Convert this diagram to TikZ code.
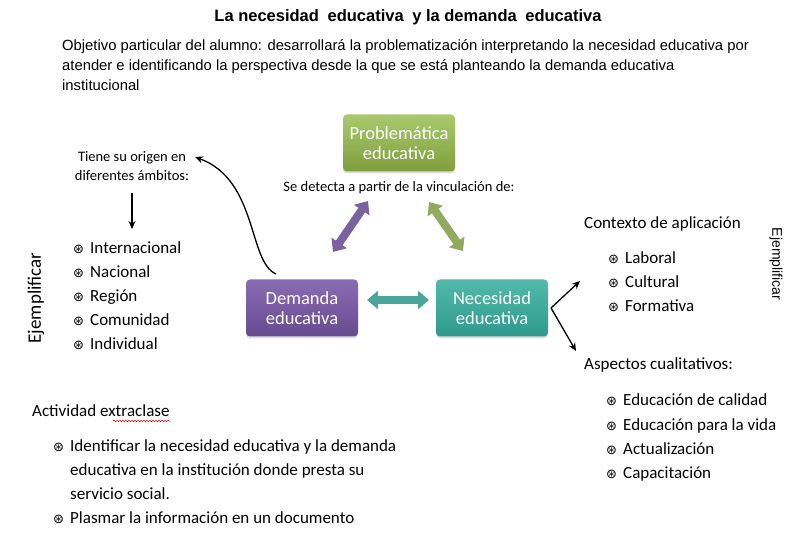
\documentclass[tikz,border=0pt]{standalone}
\usepackage{fontspec}
\setmainfont{Carlito}
\newfontfamily\arialfont{Liberation Sans}
\newfontfamily\symfont{DejaVu Sans}
\usetikzlibrary{arrows.meta,decorations.pathmorphing,shadows}

\definecolor{verdeA}{HTML}{A9C96E}
\definecolor{verdeB}{HTML}{7E9F3C}
\definecolor{moradoA}{HTML}{8A6CB2}
\definecolor{moradoB}{HTML}{684A91}
\definecolor{turqA}{HTML}{52B9AC}
\definecolor{turqB}{HTML}{2E9A8D}

\newcommand{\bul}{\makebox[17pt][l]{\symfont\fontsize{13}{13}\selectfont ⊛}}

\begin{document}
\begin{tikzpicture}[x=1pt,y=-1pt,
  caja/.style={rounded corners=4pt, minimum width=112pt, minimum height=57pt,
    text=white, align=center, inner sep=0pt,
    font=\fontsize{18.5}{20}\selectfont,
    drop shadow={opacity=0.25, shadow xshift=0pt, shadow yshift=-2pt}},
  gorda/.style={line width=8pt,
    {Triangle[width=18pt,length=11pt]}-{Triangle[width=18pt,length=11pt]}},
  fina/.style={line width=1.3pt, -{Stealth[length=8pt,width=7pt]}},
  texto/.style={anchor=base west, inner sep=0pt, font=\fontsize{17}{20}\selectfont},
  chico/.style={inner sep=0pt, font=\fontsize{14.5}{19}\selectfont, align=center},
  arial/.style={anchor=base west, inner sep=0pt, font=\arialfont\fontsize{14.8}{16}\selectfont}]

\useasboundingbox[fill=white] (0,0) rectangle (804,540);

% Title and objective
\node [anchor=base, inner sep=0pt, font=\arialfont\bfseries\fontsize{16.5}{18}\selectfont]
  (titulo) at (408,22) {La necesidad\hspace{4pt} educativa\hspace{4pt} y la demanda\hspace{4pt} educativa};
\node [arial] (obj1) at (62,51) {Objetivo particular del alumno: desarrollará la problematización interpretando la necesidad educativa por};
\node [arial] (obj2) at (62,71) {atender e identificando la perspectiva desde la que se está planteando la demanda educativa};
\node [arial] (obj3) at (62,91) {institucional};

% Boxes
\node [caja, top color=verdeA, bottom color=verdeB] (prob) at (399,143) {Problemática\\educativa};
\node [caja, top color=moradoA, bottom color=moradoB] (dem) at (302,308) {Demanda\\educativa};
\node [caja, top color=turqA, bottom color=turqB] (nec) at (492,308) {Necesidad\\educativa};

\node [chico] (detecta) at (399,188) {Se detecta a partir de la vinculación de:};

% Arrow ends
\coordinate (pm1) at (333,252);
\coordinate (pm2) at (368,201);
\coordinate (pv1) at (463,251);
\coordinate (pv2) at (429,202);
\coordinate (pt1) at (367,300);
\coordinate (pt2) at (429,300);

\draw [gorda, draw=moradoA!90!black, fill=moradoA!90!black] (pm1)--(pm2);
\draw [gorda, draw=verdeA!85!black, fill=verdeA!85!black] (pv1)--(pv2);
\draw [gorda, draw=turqA!90!black, fill=turqA!90!black] (pt1)--(pt2);

% Left side
\node [chico] (tiene) at (132,166) {Tiene su origen en\\diferentes ámbitos:};
\coordinate (abajo) at (132,229);
\draw [fina] (tiene.south |- 0,193) -- (abajo);

\coordinate (dem1) at (276,274);
\coordinate (ori) at (195,157);
\draw [fina] (dem1) .. controls (248,262) and (258,180) .. (ori);

\node [rotate=90, inner sep=0pt, font=\fontsize{19}{20}\selectfont] (ejem1) at (36,298) {Ejemplificar};

\node [texto] (inter) at (73,254) {\bul Internacional};
\node [texto] (naci) at (73,278) {\bul Nacional};
\node [texto] (regi) at (73,302) {\bul Región};
\node [texto] (comu) at (73,326) {\bul Comunidad};
\node [texto] (indi) at (73,350) {\bul Individual};

% Right side
\node [texto] (contexto) at (584,229) {Contexto de aplicación};
\node [texto] (labo) at (608,264) {\bul Laboral};
\node [texto] (cult) at (608,288) {\bul Cultural};
\node [texto] (form) at (608,312) {\bul Formativa};

\node [rotate=-90, inner sep=0pt, font=\arialfont\fontsize{14}{16}\selectfont] (ejem2) at (776,264) {Ejemplificar};

\node [texto] (aspectos) at (584,370) {Aspectos cualitativos:};
\node [texto] (cali) at (606,406) {\bul Educación de calidad};
\node [texto] (vida) at (606,430) {\bul Educación para la vida};
\node [texto] (actu) at (606,454) {\bul Actualización};
\node [texto] (capa) at (606,478) {\bul Capacitación};

\coordinate (nec1) at (551,308);
\coordinate (arriba) at (580,281);
\coordinate (bajo) at (576,351);
\draw [fina] (nec1) -- (arriba);
\draw [fina] (nec1) -- (bajo);

% Activity
\node [texto] (actividad) at (32,416) {Actividad extraclase};
\draw [red, line width=0.5pt, decorate, decoration={snake, amplitude=0.8pt, segment length=3pt}]
  (113,421) -- (170,421);

\node [texto] (iden1) at (53,451) {\bul Identificar la necesidad educativa y la demanda};
\node [texto] (iden2) at (70,475) {educativa en la institución donde presta su};
\node [texto] (iden3) at (70,499) {servicio social.};
\node [texto] (plas) at (53,523) {\bul Plasmar la información en un documento};

\end{tikzpicture}
\end{document}
